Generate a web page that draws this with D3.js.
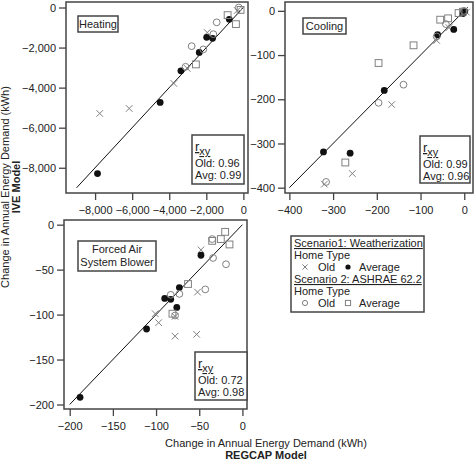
<!DOCTYPE html>
<html>
<head>
<meta charset="utf-8">
<script src="https://cdn.jsdelivr.net/npm/d3@7"></script>
<style>
body { margin: 0; background: #fff; }
svg { display: block; font-family: "Liberation Sans", Arial, sans-serif; }
</style>
</head>
<body>
<svg width="474" height="460"></svg>
<script>
// values, [REGCAP, IVE] in kWh
var heatWxOld = [[-1950, -1250], [-7750, -5290], [-6160, -5040], [-3750, -3790], [-3030, -3040], [-330, -150]];
var heatWxAvg = [[-760, -590], [-1980, -1490], [-1660, -1540], [-2380, -2240], [-3370, -3160], [-4490, -4740], [-7870, -8290]];
var heatAshOld = [[-250, 0], [-1440, -740], [-2790, -1930], [-2160, -2090], [-1620, -1330], [-3120, -2960]];
var heatAshAvg = [[-850, -380], [-400, -830], [-2560, -2840], [-150, -120]];

var coolWxOld = [[-320, -392], [-256, -368], [-166, -212], [-63, -67], [-35, -38], [5, -3]];
var coolWxAvg = [[-322, -319], [-261, -322], [-183, -180], [-61, -54], [-24, -42], [-3, -6], [1, -1]];
var coolAshOld = [[-316, -387], [-139, -167], [-196, -208], [-63, -58], [-42, -30], [-1, 0]];
var coolAshAvg = [[-272, -343], [-196, -118], [-116, -78], [-55, -20], [-37, -17], [-13, -5], [-3, -2]];

var fanWxOld = [[-48, -28], [-101, -99], [-97, -109], [-78, -124], [-53, -122], [-52, -75], [-78, -102]];
var fanWxAvg = [[-188, -192], [-111, -116], [-90, -82], [-83, -83], [-73, -70], [-76, -92], [-48, -34]];
var fanAshOld = [[-34, -37], [-19, -44], [-43, -72], [-73, -77], [-83, -78], [-78, -101], [-35, -16]];
var fanAshAvg = [[-35, -18], [-20, -8], [-25, -16], [-15, -22], [-63, -66], [-81, -99]];

var heatTicks = [-8000, -6000, -4000, -2000, 0];
var coolTicks = [-400, -300, -200, -100, 0];
var fanTicks = [-200, -150, -100, -50, 0];

var heatR = ["0.96", "0.99"];
var coolR = ["0.99", "0.96"];
var fanR = ["0.72", "0.98"];

var svg = d3.select("svg");
var ink = "#222", frameCol = "#444", grey = "#808080";

var panels = [
  { title: ["Heating"], xd: [-9570, 250], yd: [-9260, 275], ticks: heatTicks,
    frame: [66, 2, 248, 193], line: [-9000, 0], tbox: [78, 16, 40, 16], rbox: [192, 135, 52, 49],
    r: heatR, sets: [heatWxOld, heatWxAvg, heatAshOld, heatAshAvg] },
  { title: ["Cooling"], xd: [-410, 20], yd: [-412, 20], ticks: coolTicks,
    frame: [285, 2, 473, 193], line: [-400, 8], tbox: [303, 18, 43, 16], rbox: [420, 136, 50, 47],
    r: coolR, sets: [coolWxOld, coolWxAvg, coolAshOld, coolAshAvg] },
  { title: ["Forced Air", "System Blower"], xd: [-206.6, 5.3], yd: [-205, 5.2], ticks: fanTicks,
    frame: [64, 220, 247, 409], line: [-200, 0], tbox: [78, 241, 78, 30], rbox: [195, 352, 52, 48],
    r: fanR, sets: [fanWxOld, fanWxAvg, fanAshOld, fanAshAvg] }
];

function marker(sel, kind, s) {
  if (kind === 0) {
    sel.append("path").attr("d", "M" + -s + "," + -s + "L" + s + "," + s + "M" + -s + "," + s + "L" + s + "," + -s)
      .attr("stroke", grey).attr("stroke-width", 1).attr("fill", "none");
  } else if (kind === 1) {
    sel.append("circle").attr("r", s).attr("fill", "#111");
  } else if (kind === 2) {
    sel.append("circle").attr("r", s).attr("fill", "none").attr("stroke", grey).attr("stroke-width", 1);
  } else {
    sel.append("rect").attr("x", -s).attr("y", -s).attr("width", 2 * s).attr("height", 2 * s)
      .attr("fill", "none").attr("stroke", grey).attr("stroke-width", 1);
  }
}

panels.forEach(function(p) {
  var f = p.frame;
  var x = d3.scaleLinear().domain(p.xd).range([f[0], f[2]]);
  var y = d3.scaleLinear().domain(p.yd).range([f[3], f[1]]);
  var g = svg.append("g");

  var xa = g.append("g")
    .attr("transform", "translate(0," + f[3] + ")")
    .call(d3.axisBottom(x).tickValues(p.ticks).tickSize(7).tickPadding(6).tickSizeOuter(0));
  var ya = g.append("g")
    .attr("transform", "translate(" + f[0] + ",0)")
    .call(d3.axisLeft(y).tickValues(p.ticks).tickSize(7).tickPadding(3).tickSizeOuter(0));
  [xa, ya].forEach(function(a) {
    a.attr("font-family", null).attr("font-size", 11);
    a.select(".domain").remove();
    a.selectAll("line").attr("stroke", frameCol).attr("stroke-width", 1.3);
    a.selectAll("text").attr("fill", ink);
  });

  g.append("rect")
    .attr("x", f[0]).attr("y", f[1])
    .attr("width", f[2] - f[0]).attr("height", f[3] - f[1])
    .attr("fill", "none").attr("stroke", frameCol).attr("stroke-width", 1.5);

  g.append("line")
    .attr("x1", x(p.line[0])).attr("y1", y(p.line[0]))
    .attr("x2", x(p.line[1])).attr("y2", y(p.line[1]))
    .attr("stroke", "#111").attr("stroke-width", 1);

  p.sets.forEach(function(d, k) {
    g.selectAll(null)
      .data(d)
      .enter()
      .append("g")
      .attr("transform", function(v) { return "translate(" + x(v[0]) + "," + y(v[1]) + ")"; })
      .each(function() { marker(d3.select(this), k, k === 0 ? 3.3 : (k === 3 ? 3.4 : 3.4)); });
  });

  // title box
  var t = p.tbox;
  g.append("rect").attr("x", t[0]).attr("y", t[1]).attr("width", t[2]).attr("height", t[3])
    .attr("fill", "#fff").attr("stroke", frameCol).attr("stroke-width", 1.5);
  p.title.forEach(function(s, i) {
    g.append("text")
      .attr("x", t[0] + t[2] / 2)
      .attr("y", t[1] + 12 + i * 13)
      .attr("text-anchor", "middle").attr("font-size", 11).attr("fill", ink)
      .text(s);
  });

  // r_xy box
  var b = p.rbox;
  g.append("rect").attr("x", b[0]).attr("y", b[1]).attr("width", b[2]).attr("height", b[3])
    .attr("fill", "#fff").attr("stroke", frameCol).attr("stroke-width", 1.5);
  var rt = g.append("text").attr("x", b[0] + 3).attr("y", b[1] + 16).attr("fill", ink).attr("font-size", 13);
  rt.append("tspan").attr("text-decoration", "underline").text("r");
  rt.append("tspan").attr("dy", 4).attr("font-size", 11).attr("text-decoration", "underline").text("xy");
  g.append("text").attr("x", b[0] + 3).attr("y", b[1] + 32).attr("fill", ink).attr("font-size", 11)
    .text("Old: " + p.r[0]);
  g.append("text").attr("x", b[0] + 3).attr("y", b[1] + 44).attr("fill", ink).attr("font-size", 11)
    .text("Avg: " + p.r[1]);
});

// legend
var lg = svg.append("g");
lg.append("rect").attr("x", 291).attr("y", 236).attr("width", 133).attr("height", 76)
  .attr("fill", "#fff").attr("stroke", frameCol).attr("stroke-width", 1.5);
var rows = ["Scenario1: Weatherization", "Home Type", null, "Scenario 2: ASHRAE 62.2", "Home Type", null];
rows.forEach(function(s, i) {
  var cy = 243 + i * 12;
  if (s) {
    lg.append("text").attr("x", 294).attr("y", cy + 4).attr("font-size", 11).attr("fill", ink)
      .attr("text-decoration", i % 3 === 0 ? "underline" : null)
      .text(s);
  } else {
    var k0 = i === 2 ? 0 : 2;
    marker(lg.append("g").attr("transform", "translate(305," + cy + ")"), k0, 2.6);
    marker(lg.append("g").attr("transform", "translate(348," + cy + ")"), k0 + 1, 2.6);
    lg.append("text").attr("x", 318).attr("y", cy + 4).attr("font-size", 11).attr("fill", ink).text("Old");
    lg.append("text").attr("x", 359).attr("y", cy + 4).attr("font-size", 11).attr("fill", ink).text("Average");
  }
});

// axis titles
svg.append("text").attr("x", 266).attr("y", 447).attr("text-anchor", "middle")
  .attr("font-size", 11).attr("fill", ink).text("Change in Annual Energy Demand (kWh)");
svg.append("text").attr("x", 266).attr("y", 459).attr("text-anchor", "middle")
  .attr("font-size", 11).attr("font-weight", "bold").attr("fill", ink).text("REGCAP Model");
svg.append("text").attr("transform", "translate(9,187) rotate(-90)").attr("text-anchor", "middle")
  .attr("font-size", 11).attr("fill", ink).text("Change in Annual Energy Demand (kWh)");
svg.append("text").attr("transform", "translate(20,187) rotate(-90)").attr("text-anchor", "middle")
  .attr("font-size", 11).attr("font-weight", "bold").attr("fill", ink).text("IVE Model");
</script>
</body>
</html>
